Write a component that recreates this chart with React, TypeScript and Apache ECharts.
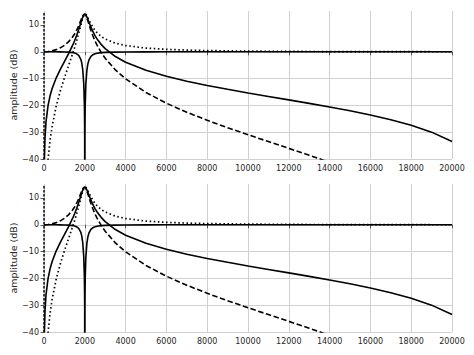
import React, { useEffect, useRef } from 'react';
import * as echarts from 'echarts';

// frequency axis (Hz)
const freqs = [0, 20, 50, 100, 200, 300, 400, 600, 800, 1000, 1200, 1400, 1500, 1600, 1700, 1800, 1850, 1900, 1950, 1980, 1990, 1995, 2000, 2005, 2010, 2020, 2050, 2100, 2150, 2200, 2300, 2400, 2500, 2600, 2800, 3000, 3500, 4000, 5000, 6000, 7000, 8000, 9000, 10000, 11000, 12000, 13000, 14000, 15000, 16000, 17000, 18000, 19000, 20000];

// amplitude (dB)
const bandpass = [null, -40.06, -32.1, -26.06, -19.97, -16.35, -13.69, -9.72, -6.55, -3.67, -0.79, 2.35, 4.12, 6.07, 8.26, 10.67, 11.87, 12.94, 13.7, 13.93, 13.95, 13.97, 13.98, 13.98, 13.97, 13.94, 13.72, 13.03, 12.11, 11.1, 9.17, 7.47, 6.03, 4.79, 2.76, 1.16, -1.78, -3.89, -6.92, -9.15, -10.98, -12.56, -14.0, -15.36, -16.66, -17.94, -19.24, -20.59, -22.02, -23.58, -25.34, -27.4, -29.98, -33.51];
const lowpass = [0, 0, 0.01, 0.02, 0.08, 0.19, 0.34, 0.79, 1.46, 2.39, 3.69, 5.48, 6.64, 8.03, 9.69, 11.6, 12.56, 13.39, 13.93, 14.02, 14.01, 13.99, 13.98, 13.96, 13.92, 13.85, 13.5, 12.6, 11.47, 10.26, 7.93, 5.86, 4.06, 2.47, -0.22, -2.44, -6.77, -10.09, -15.19, -19.19, -22.56, -25.57, -28.33, -30.95, -33.49, -36.02, -38.59, -41.25, -44.09, -47.19, -50.69, -54.82, -59.97, -67.03];
const highpass = [null, -80.1, -64.2, -52.14, -40.03, -32.88, -27.73, -20.23, -14.56, -9.74, -5.26, -0.78, 1.59, 4.11, 6.84, 9.74, 11.19, 12.49, 13.48, 13.85, 13.92, 13.94, 13.98, 14.0, 14.01, 14.02, 13.93, 13.46, 12.74, 11.94, 10.4, 9.08, 7.94, 7.11, 5.74, 4.76, 3.2, 2.31, 1.36, 0.89, 0.61, 0.44, 0.32, 0.24, 0.18, 0.13, 0.1, 0.07, 0.05, 0.04, 0.03, 0.02, 0.01, 0.0];
const notch = [0, 0, 0, 0, 0, 0, -0.01, -0.02, -0.04, -0.08, -0.15, -0.31, -0.47, -0.77, -1.36, -2.73, -4.15, -6.72, -12.09, -19.87, -25.9, -31.9, -120, -31.9, -25.9, -20.0, -12.3, -7.06, -4.56, -3.15, -1.74, -1.1, -0.76, -0.56, -0.34, -0.23, -0.12, -0.07, -0.04, -0.02, -0.01, 0, 0, 0, 0, 0, 0, 0, 0, 0, 0, 0, 0, 0];

const yTicks = [-40, -30, -20, -10, 0, 10];

const pairs = (ys: (number | null)[]) => freqs.map((f, i) => [f, ys[i]]);
const fmt = (v: number) => (v < 0 ? '\u2212' + Math.abs(v) : String(v));

export default function App() {
  const ref = useRef<HTMLDivElement>(null);
  useEffect(() => {
    const chart = echarts.init(ref.current!, null, { renderer: 'svg' });
    const font = 'DejaVu Sans';
    const grids = [
      { left: 44, top: 11, width: 408, height: 148, outerBoundsMode: 'none', containLabel: false },
      { left: 44, top: 184, width: 408, height: 148, outerBoundsMode: 'none', containLabel: false },
    ];
    const xAxes = grids.map((_, i) => ({
      type: 'value',
      gridIndex: i,
      min: 0,
      max: 20000,
      interval: 2000,
      axisLine: { show: false },
      axisTick: { show: true, length: 3.5, lineStyle: { color: '#333', width: 0.8 } },
      axisLabel: { color: '#262626', fontFamily: font, fontSize: 8, margin: 5, formatter: (v: number) => fmt(v) },
      splitLine: { show: true, lineStyle: { color: '#d0d0d0', width: 1 } },
    }));
    const yAxes = grids.map((_, i) => ({
      type: 'value',
      gridIndex: i,
      min: -40,
      max: 15.2,
      interval: 10,
      name: 'amplitude (dB)',
      nameLocation: 'middle',
      nameGap: 26,
      nameRotate: 90,
      nameMoveOverlap: false,
      nameTextStyle: { color: '#262626', fontFamily: font, fontSize: 9.5 },
      axisLine: { show: true, onZero: false, lineStyle: { color: '#000', width: 1.5, type: [1.5, 2.5] } },
      axisTick: { show: true, length: 3.5, customValues: yTicks, lineStyle: { color: '#333', width: 0.8 } },
      axisLabel: { color: '#262626', fontFamily: font, fontSize: 8, margin: 5, customValues: yTicks, formatter: (v: number) => fmt(v) },
      splitLine: { show: true, showMaxLine: false, lineStyle: { color: '#d0d0d0', width: 1 } },
    }));
    const series: any[] = [];
    grids.forEach((_, i) => {
      const common = { type: 'line', xAxisIndex: i, yAxisIndex: i, showSymbol: false, symbol: 'none', clip: true, connectNulls: false, silent: true };
      series.push({ ...common, name: 'highpass', data: pairs(highpass), lineStyle: { color: '#000', width: 1.7, type: [1.5, 2.6] } });
      series.push({ ...common, name: 'lowpass', data: pairs(lowpass), lineStyle: { color: '#000', width: 1.6, type: [5.5, 2.6] } });
      series.push({ ...common, name: 'bandpass', data: pairs(bandpass), lineStyle: { color: '#000', width: 1.6 } });
      series.push({ ...common, name: 'notch', data: pairs(notch), lineStyle: { color: '#000', width: 1.6 } });
    });
    chart.setOption({
      animation: false,
      backgroundColor: '#fff',
      textStyle: { fontFamily: font },
      grid: grids,
      xAxis: xAxes,
      yAxis: yAxes,
      series,
    });
    return () => chart.dispose();
  }, []);
  return <div ref={ref} style={{ position: 'fixed', left: 0, top: 0, width: 474, height: 355, background: '#fff' }} />;
}
